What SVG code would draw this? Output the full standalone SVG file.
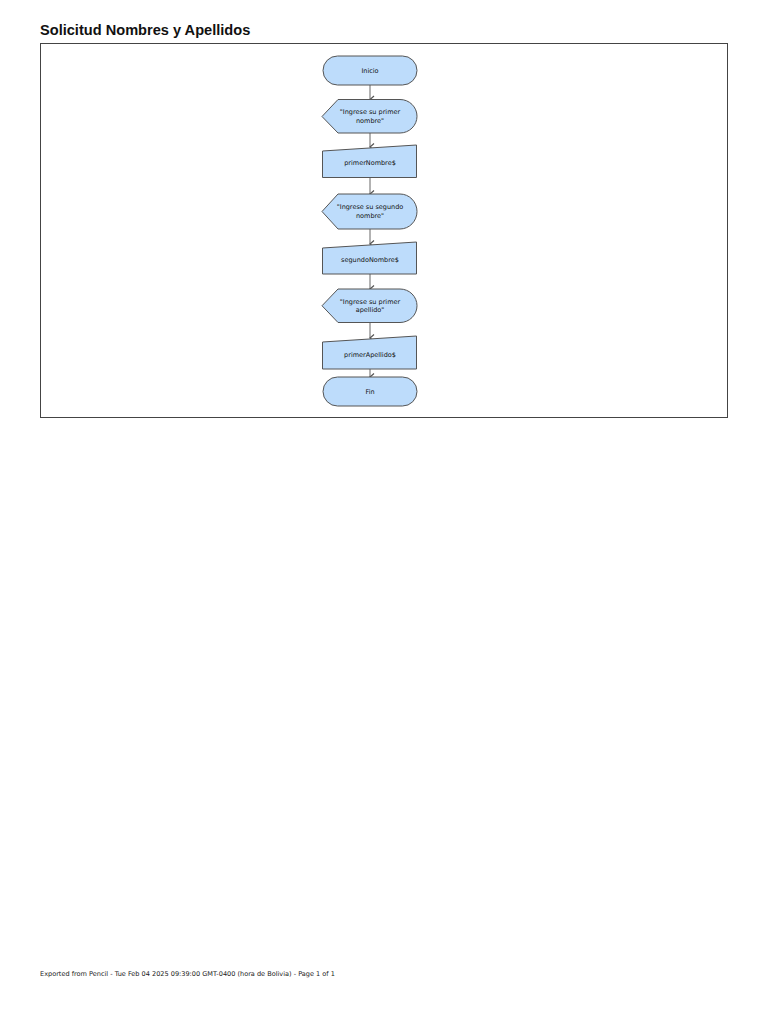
<svg xmlns="http://www.w3.org/2000/svg" width="768" height="1024" viewBox="0 0 768 1024">
<style>
.s{fill:#bddcfb;stroke:#555;stroke-width:1}
.t{font-family:"DejaVu Sans",Verdana,sans-serif;font-size:6.5px;fill:#111;text-anchor:middle}
.c{stroke:#666;stroke-width:1;fill:none}
</style>
<defs>
<marker id="ah" markerWidth="10" markerHeight="10" refX="5" refY="8" orient="auto" markerUnits="userSpaceOnUse" viewBox="0 0 10 10">
<path d="M1.5,4 L5,8 L8.5,4" fill="none" stroke="#555" stroke-width="1.2"/>
</marker>
</defs>
<rect width="768" height="1024" fill="#fff"/>
<text x="40" y="35" font-family="Liberation Sans,Arial,sans-serif" font-size="14.6" font-weight="bold" fill="#111">Solicitud Nombres y Apellidos</text>
<rect x="40.5" y="43.5" width="687" height="374" fill="#fff" stroke="#444" stroke-width="1"/>
<g id="connectors">
<line class="c" x1="370" y1="85" x2="370" y2="99.5" marker-end="url(#ah)"/>
<line class="c" x1="370" y1="133" x2="370" y2="147" marker-end="url(#ah)"/>
<line class="c" x1="370" y1="177.5" x2="370" y2="194" marker-end="url(#ah)"/>
<line class="c" x1="370" y1="229" x2="370" y2="244" marker-end="url(#ah)"/>
<line class="c" x1="370" y1="274" x2="370" y2="289" marker-end="url(#ah)"/>
<line class="c" x1="370" y1="322.5" x2="370" y2="338" marker-end="url(#ah)"/>
<line class="c" x1="370" y1="369" x2="370" y2="377" marker-end="url(#ah)"/>
</g>
<g id="inicio">
<rect class="s" x="323" y="56" width="94" height="29" rx="14.5" ry="14.5"/>
<text class="t" x="370" y="72.5">Inicio</text>
</g>
<g id="display1">
<path class="s" d="M322,116.5 L338,99.5 H400 A17,16.75 0 0 1 400,133 H338 Z"/>
<text class="t" x="370" y="114">"Ingrese su primer</text>
<text class="t" x="370" y="122.5">nombre"</text>
</g>
<g id="input1">
<path class="s" d="M322.5,151 L416.5,145 V177.5 H322.5 Z"/>
<text class="t" x="370" y="165">primerNombre$</text>
</g>
<g id="display2">
<path class="s" d="M322,211.5 L338,194 H400 A17,17.5 0 0 1 400,229 H338 Z"/>
<text class="t" x="370" y="209">"Ingrese su segundo</text>
<text class="t" x="370" y="217.5">nombre"</text>
</g>
<g id="input2">
<path class="s" d="M322.5,248 L416.5,242 V274 H322.5 Z"/>
<text class="t" x="370" y="262">segundoNombre$</text>
</g>
<g id="display3">
<path class="s" d="M322,305.75 L338,289 H400 A17,16.75 0 0 1 400,322.5 H338 Z"/>
<text class="t" x="370" y="303.5">"Ingrese su primer</text>
<text class="t" x="370" y="312">apellido"</text>
</g>
<g id="input3">
<path class="s" d="M322.5,342 L416.5,336 V369 H322.5 Z"/>
<text class="t" x="370" y="356.5">primerApellido$</text>
</g>
<g id="fin">
<rect class="s" x="323" y="377" width="94" height="29" rx="14.5" ry="14.5"/>
<text class="t" x="370" y="393.5">Fin</text>
</g>
<text x="40" y="976" font-family="DejaVu Sans,Verdana,sans-serif" font-size="6.55" fill="#222">Exported from Pencil - Tue Feb 04 2025 09:39:00 GMT-0400 (hora de Bolivia) - Page 1 of 1</text>
</svg>
